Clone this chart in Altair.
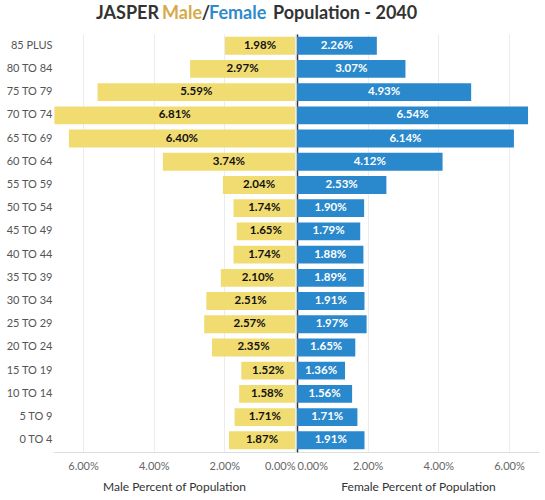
import altair as alt
import pandas as pd

# Age brackets, top to bottom
age_groups = [
    "85 PLUS", "80 TO 84", "75 TO 79", "70 TO 74", "65 TO 69", "60 TO 64",
    "55 TO 59", "50 TO 54", "45 TO 49", "40 TO 44", "35 TO 39", "30 TO 34",
    "25 TO 29", "20 TO 24", "15 TO 19", "10 TO 14", "5 TO 9", "0 TO 4",
]
# Share of the population in each bracket (percent)
male_pct = [1.98, 2.97, 5.59, 6.81, 6.40, 3.74, 2.04, 1.74, 1.65, 1.74,
            2.10, 2.51, 2.57, 2.35, 1.52, 1.58, 1.71, 1.87]
female_pct = [2.26, 3.07, 4.93, 6.54, 6.14, 4.12, 2.53, 1.90, 1.79, 1.88,
              1.89, 1.91, 1.97, 1.65, 1.36, 1.56, 1.71, 1.91]
tick_values = [0, 2, 4, 6]

MALE_BAR = "#f1dc72"
FEMALE_BAR = "#2a88cc"
MALE_TITLE = "#d6aa4c"
FEMALE_TITLE = "#2f8bcb"
DARK = "#333333"
FONT = "Lato"

df = pd.DataFrame({"age": age_groups, "male": male_pct, "female": female_pct})

band = alt.Scale(paddingInner=0.23, paddingOuter=0.12)
x_domain = [0, 6.85]
PANEL_H = 418


def pct_axis(title):
    return alt.Axis(
        title=title, values=tick_values,
        labelExpr="format(datum.value, '.2f') + '%'",
        grid=True, gridColor="#ececec", ticks=False,
        domainColor="#dddddd", labelColor="#666666", labelFontSize=11,
        labelFont=FONT, labelPadding=8, titleFont=FONT,
        titleFontWeight="normal", titleFontSize=12, titleColor=DARK,
        titlePadding=10,
    )


# Male side: x runs right-to-left
left_base = alt.Chart(df).encode(
    y=alt.Y("age:N", sort=age_groups, scale=band,
            axis=alt.Axis(title=None, ticks=False, domain=False,
                          labelColor="#555555", labelFontSize=11,
                          labelFont=FONT, labelPadding=1))
)
left_bars = left_base.mark_bar(color=MALE_BAR).encode(
    x=alt.X("male:Q", scale=alt.Scale(domain=x_domain, reverse=True, nice=False),
            axis=pct_axis("Male Percent of Population"))
)
left_text = left_base.transform_calculate(
    mid="datum.male / 2", label="format(datum.male, '.2f') + '%'"
).mark_text(font=FONT, fontWeight="bold", fontSize=11.5, color="#111111").encode(
    x=alt.X("mid:Q"), text="label:N"
)
left = alt.layer(left_bars, left_text).properties(width=242, height=PANEL_H)

# Female side
right_base = alt.Chart(df).encode(
    y=alt.Y("age:N", sort=age_groups, scale=band,
            axis=alt.Axis(title=None, labels=False, ticks=False, grid=False,
                          domainColor=DARK, domainWidth=1.5))
)
right_bars = right_base.mark_bar(color=FEMALE_BAR).encode(
    x=alt.X("female:Q", scale=alt.Scale(domain=x_domain, nice=False),
            axis=pct_axis("Female Percent of Population"))
)
right_text = right_base.transform_calculate(
    mid="datum.female / 2", label="format(datum.female, '.2f') + '%'"
).mark_text(font=FONT, fontWeight="bold", fontSize=11.5, color="white").encode(
    x=alt.X("mid:Q"), text="label:N"
)
right = alt.layer(right_bars, right_text).properties(width=242, height=PANEL_H)

# Two-colour title built from text pieces
title_src = alt.Chart(pd.DataFrame({"i": [0]}))
tstyle = dict(font=FONT, fontWeight="bold", fontSize=18, baseline="middle")
TY = 8
title = alt.layer(
    title_src.mark_text(text="JASPER", align="right", color=DARK, **tstyle)
    .encode(x=alt.value(106), y=alt.value(TY)),
    title_src.mark_text(text="Male", align="right", color=MALE_TITLE, **tstyle)
    .encode(x=alt.value(149), y=alt.value(TY)),
    title_src.mark_text(text="/", align="center", color=DARK, **tstyle)
    .encode(x=alt.value(153), y=alt.value(TY)),
    title_src.mark_text(text="Female", align="left", color=FEMALE_TITLE, **tstyle)
    .encode(x=alt.value(156), y=alt.value(TY)),
    title_src.mark_text(text="Population - 2040", align="left", color=DARK, **tstyle)
    .encode(x=alt.value(220), y=alt.value(TY)),
).properties(width=485, height=22)

chart = alt.vconcat(
    title,
    alt.hconcat(left, right, spacing=2),
    spacing=6,
).properties(background="white").configure_view(strokeWidth=0)

chart.save("out.html", embed_options={"renderer": "svg", "actions": False})
